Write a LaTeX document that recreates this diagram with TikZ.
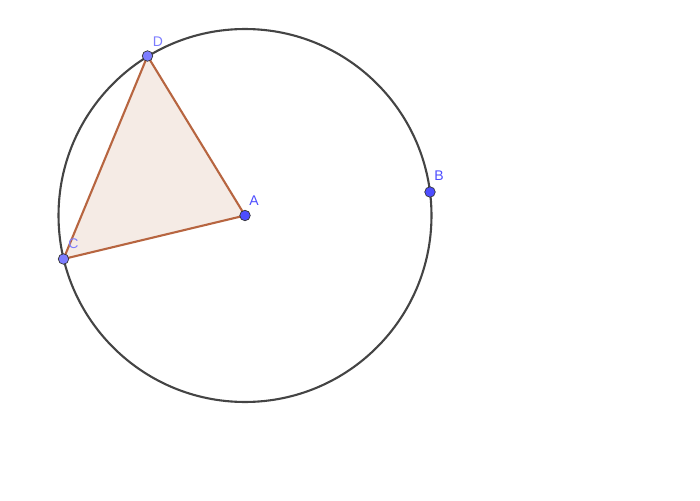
\documentclass[tikz,border=0pt]{standalone}
\usepackage{fontspec}
\setmainfont{Liberation Sans}
\usetikzlibrary{calc}

\definecolor{polybrown}{RGB}{153,51,0}
\definecolor{edgebrown}{RGB}{183,101,64}
\definecolor{circgray}{RGB}{68,68,68}
\definecolor{freeblue}{RGB}{77,77,255}
\definecolor{pathblue}{RGB}{125,125,255}

\tikzset{
  Point/.style={circle,draw=black!80,line width=0.7pt,inner sep=0pt,minimum size=10.5pt},
  Label/.style={font=\fontsize{14}{16}\selectfont,inner sep=0pt}
}

\begin{document}
\begin{tikzpicture}[x=1pt,y=-1pt]
\useasboundingbox (0,0) rectangle (700,500);

\coordinate (A) at (245,215.5);
\coordinate (B) at (430,192);
\coordinate (C) at (63.5,259);
\coordinate (D) at (147.5,56);

% triangle
\fill[polybrown!10] (A) -- (D) -- (C) -- cycle;
\draw[edgebrown,line width=2.1pt] (A) -- (D);
\draw[edgebrown,line width=2.1pt] (D) -- (C);
\draw[edgebrown,line width=2.1pt] (C) -- (A);

% circle through B
\draw[circgray,line width=2.1pt] let \p1=($(B)-(A)$) in (A) circle ({veclen(\x1,\y1)});

\node[Point,fill=freeblue] (pA) at (A) {};
\node[Point,fill=freeblue] (pB) at (B) {};
\node[Point,fill=pathblue] (pC) at (C) {};
\node[Point,fill=pathblue] (pD) at (D) {};

\node[Label,text=freeblue] (lA) at (254,201) {A};
\node[Label,text=freeblue] (lB) at (439,175.5) {B};
\node[Label,text=pathblue] (lC) at (73.5,244) {C};
\node[Label,text=pathblue] (lD) at (158,41.5) {D};

\end{tikzpicture}
\end{document}
